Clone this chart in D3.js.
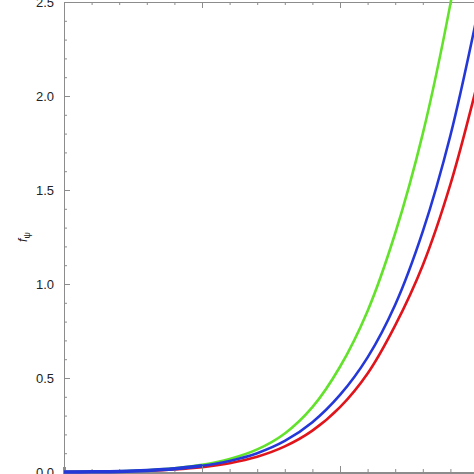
<!DOCTYPE html>
<html>
<head>
<meta charset="utf-8">
<script src="https://cdn.jsdelivr.net/npm/d3@7"></script>
<style>
  body { margin: 0; background: #fff; }
  svg { display: block; }
  text { font-family: "Liberation Sans", Arial, sans-serif; }
</style>
</head>
<body>
<svg id="chart" width="474" height="474"></svg>
<script>
// x positions (axis units, one per minor tick)
let xs = [0, 1, 2, 3, 4, 5, 6, 7, 8, 9, 10, 11, 12, 13, 14, 15]

// values
let greenVals = [0, 0.001, 0.004, 0.0095, 0.02, 0.038, 0.069, 0.12, 0.205, 0.345, 0.56, 0.857, 1.27, 1.80, 2.49, 3.36]
let blueVals  = [0, 0.001, 0.003, 0.008, 0.017, 0.033, 0.059, 0.10, 0.165, 0.265, 0.41, 0.61, 0.89, 1.28, 1.79, 2.45]
let redVals   = [0, 0.001, 0.003, 0.007, 0.014, 0.026, 0.047, 0.081, 0.136, 0.22, 0.345, 0.524, 0.78, 1.10, 1.53, 2.08]

let yTicks = [0, 0.5, 1.0, 1.5, 2.0, 2.5]

let series = [
  {name: 'red', color: '#e0141b', values: redVals},
  {name: 'green', color: '#62e22a', values: greenVals},
  {name: 'blue', color: '#2438d8', values: blueVals}
]

let mLeft = 64, mTop = 2, mBottom = 472, mRight = 478

let svg = d3.select('svg#chart')

let xScale = d3.scaleLinear()
  .domain([0, 15])
  .range([mLeft, mRight])

let yScale = d3.scaleLinear()
  .domain([0, 2.5])
  .range([mBottom, mTop])

let axisColor = '#8c8c8c'
let minorX = d3.range(0, 16, 1)
let majorX = [0, 5, 10, 15]
let minorY = d3.range(0, 26).map(d => d / 10)

// left axis: minor ticks then major ticks with labels
svg.append('g')
  .attr('class', 'minor')
  .attr('transform', `translate(${mLeft},0)`)
  .call(d3.axisLeft(yScale).tickValues(minorY).tickSize(-3).tickFormat(''))

svg.append('g')
  .attr('class', 'major')
  .attr('transform', `translate(${mLeft},0)`)
  .call(d3.axisLeft(yScale).tickValues(yTicks).tickSize(-6).tickPadding(10)
    .tickFormat(d3.format('.1f')))

// top axis
svg.append('g')
  .attr('class', 'minor')
  .attr('transform', `translate(0,${mTop})`)
  .call(d3.axisTop(xScale).tickValues(minorX).tickSize(-3).tickFormat(''))

svg.append('g')
  .attr('class', 'major')
  .attr('transform', `translate(0,${mTop})`)
  .call(d3.axisTop(xScale).tickValues(majorX).tickSize(-6).tickFormat(''))

// the curves
let line = d3.line()
  .x((d, i) => xScale(xs[i]))
  .y(d => yScale(d))
  .curve(d3.curveCatmullRom.alpha(0.5))

svg.selectAll('path.curve')
  .data(series)
  .enter()
  .append('path')
  .attr('class', 'curve')
  .attr('fill', 'none')
  .attr('stroke', d => d.color)
  .attr('stroke-width', 2.6)
  .attr('d', d => line(d.values))

// bottom axis (drawn after curves, thick grey line)
let bottomAxis = svg.append('g')
  .attr('transform', `translate(0,${mBottom})`)

bottomAxis.call(d3.axisBottom(xScale).tickValues(minorX).tickSize(-3).tickFormat(''))
bottomAxis.append('g')
  .call(d3.axisBottom(xScale).tickValues(majorX).tickSize(-6).tickFormat(''))

bottomAxis.selectAll('.domain')
  .attr('stroke-width', 3)
  .attr('transform', 'translate(0,1)')

// blue curve sits on the axis line near zero
svg.append('path')
  .attr('fill', 'none')
  .attr('stroke', '#2438d8')
  .attr('stroke-width', 3.5)
  .attr('d', line(blueVals.slice(0, 6)))

svg.selectAll('.domain').attr('stroke', axisColor)
svg.selectAll('.tick line').attr('stroke', axisColor)
svg.selectAll('.tick text')
  .attr('fill', '#222')
  .attr('font-size', 13)

// y label f_psi
let ylab = svg.append('text')
  .attr('transform', `translate(27, ${(mTop + mBottom) / 2}) rotate(-90)`)
  .attr('text-anchor', 'middle')
  .attr('font-size', 12)
  .attr('fill', '#222')

ylab.append('tspan')
  .attr('font-style', 'italic')
  .text('f')
ylab.append('tspan')
  .attr('font-size', 9)
  .attr('dy', 3)
  .text('ψ')
</script>
</body>
</html>
